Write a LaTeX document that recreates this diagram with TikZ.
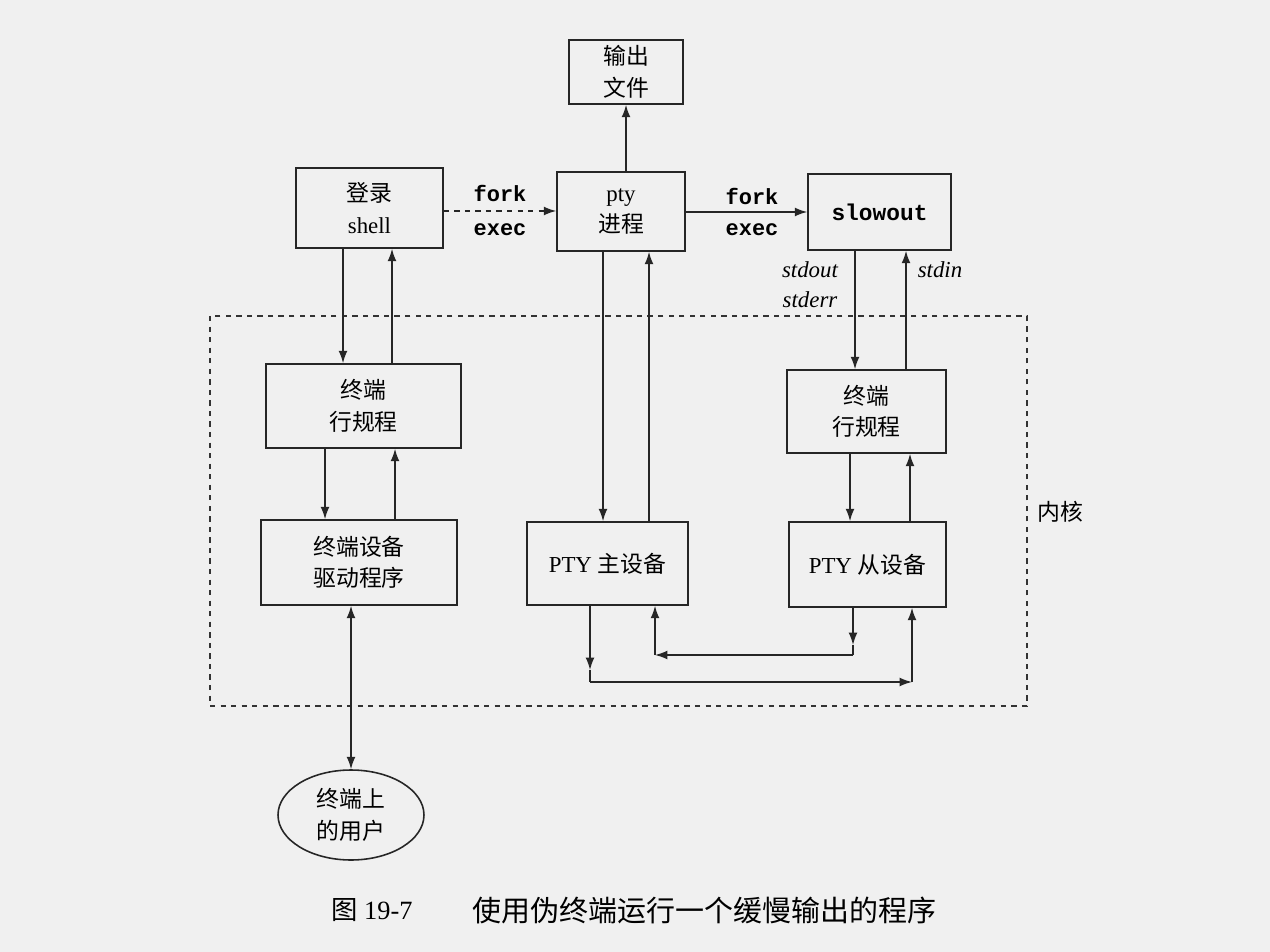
\documentclass[tikz,border=0pt]{standalone}
\usepackage{fontspec}
\setmainfont{Liberation Serif}
\newfontfamily\cjk{Noto Sans CJK SC}
\newfontfamily\mono{Liberation Mono}
\usetikzlibrary{shapes.geometric,arrows.meta}
\begin{document}
\begin{tikzpicture}[x=0.02cm,y=-0.02cm,
  bx/.style={draw=black!85,line width=0.9pt,align=center,inner sep=0pt,font=\fontsize{13}{18}\selectfont},
  arr/.style={-{Latex[length=7pt,width=5pt]},line width=0.8pt,draw=black!85},
  lab/.style={font=\mono\bfseries\fontsize{12.5}{15}\selectfont},
  ital/.style={font=\itshape\fontsize{13}{15}\selectfont}]
\fill[black!6] (0,0) rectangle (1270,952);
\useasboundingbox (0,0) rectangle (1270,952);
\draw[dashed,line width=0.8pt,black!80] (210,316) rectangle (1027,706);
\node[bx,minimum width=2.28cm,minimum height=1.28cm] (out) at (626,72) {\cjk 输出\\\cjk 文件};
\node[bx,minimum width=2.94cm,minimum height=1.6cm] (login) at (369.5,208) {\cjk 登录\\shell};
\node[bx,minimum width=2.56cm,minimum height=1.58cm] (pty) at (621,211.5) {pty\\\cjk 进程};
\node[bx,minimum width=2.86cm,minimum height=1.52cm] (slow) at (879.5,212) {\mono\bfseries slowout};
\node[bx,minimum width=3.9cm,minimum height=1.68cm] (ldl) at (363.5,406) {\cjk 终端\\\cjk 行规程};
\node[bx,minimum width=3.18cm,minimum height=1.66cm] (ldr) at (866.5,411.5) {\cjk 终端\\\cjk 行规程};
\node[bx,minimum width=3.92cm,minimum height=1.7cm] (drv) at (359,562.5) {\cjk 终端设备\\\cjk 驱动程序};
\node[bx,minimum width=3.22cm,minimum height=1.66cm] (mst) at (607.5,563.5) {PTY {\cjk 主设备}};
\node[bx,minimum width=3.14cm,minimum height=1.7cm] (slv) at (867.5,564.5) {PTY {\cjk 从设备}};
\node[bx,ellipse,minimum width=2.92cm,minimum height=1.8cm] (user) at (351,815) {\cjk 终端上\\\cjk 的用户};
\node[font=\cjk\fontsize{13}{15}\selectfont] (kern) at (1060,512) {内核};
% top arrows
\draw[arr] (pty.north -| 626,0) -- (out.south -| 626,0);
\draw[arr,dashed] (login.east |- 0,211) -- (pty.west |- 0,211);
\node[lab] (f1) at (500,193) {fork};
\node[lab] (e1) at (500,230) {exec};
\draw[arr] (pty.east |- 0,212) -- (slow.west |- 0,212);
\node[lab] (f2) at (752,196) {fork};
\node[lab] (e2) at (752,230) {exec};
% left column
\draw[arr] (login.south -| 343,0) -- (ldl.north -| 343,0);
\draw[arr] (ldl.north -| 392,0) -- (login.south -| 392,0);
\draw[arr] (ldl.south -| 325,0) -- (drv.north -| 325,0);
\draw[arr] (drv.north -| 395,0) -- (ldl.south -| 395,0);
\draw[line width=0.8pt,draw=black!85,{Latex[length=7pt,width=5pt]}-{Latex[length=7pt,width=5pt]}] (drv.south -| 351,0) -- (user.north);
% middle
\draw[arr] (pty.south -| 603,0) -- (mst.north -| 603,0);
\draw[arr] (mst.north -| 649,0) -- (pty.south -| 649,0);
% right
\draw[arr] (slow.south -| 855,0) -- (ldr.north -| 855,0);
\draw[arr] (ldr.north -| 906,0) -- (slow.south -| 906,0);
\node[ital] (so) at (810,270) {stdout};
\node[ital] (se) at (810,300) {stderr};
\node[ital] (si) at (940,270) {stdin};
\draw[arr] (ldr.south -| 850,0) -- (slv.north -| 850,0);
\draw[arr] (slv.north -| 910,0) -- (ldr.south -| 910,0);
% master/slave loops
\coordinate (a1) at (590,670);
\coordinate (a2) at (590,682);
\coordinate (a3) at (912,682);
\draw[arr] (mst.south -| 590,0) -- (a1);
\draw[line width=0.8pt,black!85] (a1) -- (a2);
\draw[arr] (a2) -- (a3);
\draw[arr] (a3) -- (slv.south -| 912,0);
\coordinate (b1) at (853,655);
\coordinate (b2) at (655,655);
\draw[arr] (slv.south -| 853,0) -- (853,645);
\draw[line width=0.8pt,black!85] (853,645) -- (b1);
\draw[arr] (b1) -- (b2);
\draw[arr] (b2) -- (mst.south -| 655,0);
% caption
\node[font=\fontsize{15}{17}\selectfont,anchor=west] (cap1) at (325,910) {{\cjk 图} 19-7};
\node[font=\cjk\fontsize{16.5}{18}\selectfont,anchor=west] (cap2) at (466,910) {使用伪终端运行一个缓慢输出的程序};
\end{tikzpicture}
\end{document}
